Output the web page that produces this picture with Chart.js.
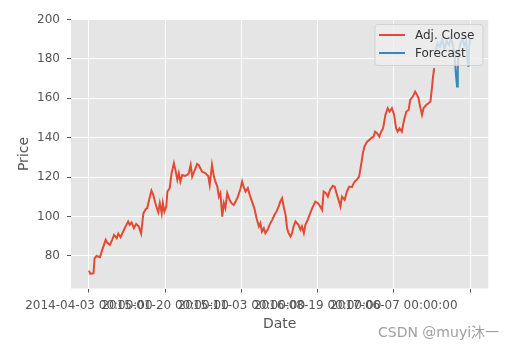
<!DOCTYPE html>
<html>
<head>
<meta charset="utf-8">
<script src="https://cdn.jsdelivr.net/npm/chart.js@4/dist/chart.umd.min.js"></script>
<style>
html,body{margin:0;padding:0;background:#fff;}
#wrap{width:518px;height:351px;position:relative;}
</style>
</head>
<body>
<div id="wrap"><canvas id="c" width="518" height="351"></canvas></div>
<script>
// ---- data ----
const adjCloseIndex = [0,4,12,15,20,29,35,44,48,55,61,66,73,77,83,90,96,103,107,112,118,124,131,137,143,149,153,159,164,169,172,177,182,186,191,194,198,203,206,212,217,223,227,232,236,240,245,252,258,262,267,271,278,284,288,297,306,313,317,323,328,332,337,341,345,350,354,358,363,369,374,380,385,391,398,402,406,411,417,422,428,434,440,446,450,454,459,463,469,474,481,487,492,498,502,507,511,516,520,524,529,533,537,542,546,550,555,559,564,568,574,579,586,594,601,607,612,616,622,627,633,640,645,651,655,660,664,671,677,683,690,697,703,709,715,719,723,730,736,741,747,751,756,762,767,772,778,784,789,795,801,806,810,815,821,827,833,839,843,850,856,861,865,869,874,878,885,891,896,900,903,906];
const adjCloseValues = [72.6,70.9,71.3,78.9,80.0,79.4,83.1,88.2,86.8,85.6,88.2,90.7,89.0,91.4,89.5,92.4,94.9,97.5,95.8,97.0,94.1,96.3,94.9,91.4,101.7,103.7,104.3,109.3,113.2,111.0,108.5,105.1,102.2,106.8,101.7,106.8,102.5,105.1,112.7,114.4,122.0,127.1,123.7,118.6,122.0,117.7,121.1,120.6,121.1,122.0,126.2,120.3,123.7,126.7,126.2,122.8,122.0,120.6,116.1,126.2,120.3,117.7,115.2,110.1,111.9,100.0,106.8,104.3,111.9,108.5,106.8,105.9,107.6,110.1,114.4,117.7,115.2,112.7,114.4,111.0,107.6,104.3,99.2,95.0,96.6,92.4,94.1,91.6,93.3,95.8,98.3,100.9,102.5,105.1,107.6,109.3,105.1,100.9,94.1,91.6,89.9,91.6,95.0,97.5,96.6,95.8,93.3,95.0,91.6,95.8,98.3,100.9,104.3,107.6,106.8,105.1,103.4,112.7,111.9,110.1,113.6,115.6,115.2,111.0,108.5,105.1,110.1,108.5,112.7,115.2,114.9,117.7,118.6,120.3,127.1,132.2,135.5,138.0,138.9,139.8,140.6,143.1,142.3,140.6,143.1,144.8,151.6,155.0,153.3,155.0,151.6,144.8,143.1,144.8,143.1,149.0,153.3,154.1,159.2,160.9,163.4,161.7,160.0,155.8,151.6,155.0,156.6,157.5,158.3,165.1,171.0,175.3];
const forecastIndex = [909,915,921,927,933,939,945,950,956,960,963,966,968,970,975,980,985,990,993,996,998,1000];
const forecastValues = [184,188,186,190,185,189,187,191,186,181,172,166,175,184,188,190,187,189,180,176,186,190];
const xTickPositions = [0,200,400,600,800,1000];
const xTickLabels = ["2014-04-03 00:00:00","2015-01-20 00:00:00","2015-11-03 00:00:00","2016-08-19 00:00:00","2017-06-07 00:00:00",""];
const yTicks = [80,100,120,140,160,180,200];
const seriesNames = ["Adj. Close","Forecast"];
const seriesColors = ["#E24A33","#348ABD"];

const toPoints = (xs, ys) => xs.map((x, i) => ({x: x, y: ys[i]}));

const bgPlugin = {
  id: 'bg',
  beforeDraw(chart) {
    const {ctx, chartArea: a} = chart;
    ctx.save();
    ctx.fillStyle = '#E5E5E5';
    ctx.fillRect(a.left, a.top, a.right - a.left, a.bottom - a.top);
    ctx.restore();
  }
};

const legendPlugin = {
  id: 'mplLegend',
  afterDatasetsDraw(chart) {
    const ctx = chart.ctx;
    const x0 = 375, y0 = 24.5, w = 108, h = 41, r = 3;
    ctx.save();
    ctx.beginPath();
    ctx.moveTo(x0 + r, y0);
    ctx.arcTo(x0 + w, y0, x0 + w, y0 + h, r);
    ctx.arcTo(x0 + w, y0 + h, x0, y0 + h, r);
    ctx.arcTo(x0, y0 + h, x0, y0, r);
    ctx.arcTo(x0, y0, x0 + w, y0, r);
    ctx.closePath();
    ctx.fillStyle = 'rgba(238,238,238,0.8)';
    ctx.fill();
    ctx.strokeStyle = 'rgba(204,204,204,0.8)';
    ctx.lineWidth = 1;
    ctx.stroke();
    const rows = [35, 53];
    seriesNames.forEach((name, i) => {
      ctx.strokeStyle = seriesColors[i];
      ctx.lineWidth = 2;
      ctx.beginPath();
      ctx.moveTo(379, rows[i]);
      ctx.lineTo(405, rows[i]);
      ctx.stroke();
      ctx.fillStyle = '#333333';
      ctx.font = '12px "DejaVu Sans"';
      ctx.textBaseline = 'middle';
      ctx.textAlign = 'left';
      ctx.fillText(name, 415, rows[i] + 0.5);
    });
    ctx.restore();
  },
  afterDraw(chart) {
    const ctx = chart.ctx;
    ctx.save();
    ctx.fillStyle = '#a0a0a0';
    ctx.font = '14px "DejaVu Sans", "Noto Sans CJK SC"';
    ctx.textBaseline = 'middle';
    ctx.textAlign = 'left';
    ctx.fillText('CSDN @muyi沐一', 378, 333);
    ctx.restore();
  }
};

new Chart(document.getElementById('c'), {
  type: 'line',
  data: {
    datasets: [
      {label: seriesNames[0], data: toPoints(adjCloseIndex, adjCloseValues), borderColor: seriesColors[0], borderWidth: 2, pointRadius: 0, tension: 0, fill: false},
      {label: seriesNames[1], data: toPoints(forecastIndex, forecastValues), borderColor: seriesColors[1], borderWidth: 2, pointRadius: 0, tension: 0, fill: false}
    ]
  },
  options: {
    responsive: false,
    animation: false,
    events: [],
    layout: {padding: {top: 19.5, right: 29.7, left: 0, bottom: 0}},
    plugins: {legend: {display: false}, tooltip: {enabled: false}},
    scales: {
      x: {
        type: 'linear', min: -47, max: 1048,
        afterBuildTicks: s => { s.ticks = xTickPositions.map(v => ({value: v})); },
        afterFit: s => { s.height = 62.5; s.paddingLeft = 0; s.paddingRight = 0; },
        ticks: {
          autoSkip: false, maxRotation: 0, minRotation: 0, color: '#555555', padding: 6,
          font: {family: 'DejaVu Sans', size: 12},
          callback: v => { const i = xTickPositions.indexOf(v); return i >= 0 ? xTickLabels[i] : ''; }
        },
        grid: {color: '#FFFFFF', lineWidth: 1, drawTicks: true, tickLength: 4, tickColor: '#555555', tickWidth: 1},
        border: {display: false},
        title: {display: true, text: 'Date', color: '#555555', font: {family: 'DejaVu Sans', size: 14}, padding: {top: 0, bottom: 18}}
      },
      y: {
        type: 'linear', min: 63.5, max: 200,
        afterBuildTicks: s => { s.ticks = yTicks.map(v => ({value: v})); },
        afterFit: s => { s.width = 71; s.paddingTop = 0; s.paddingBottom = 0; },
        ticks: {color: '#555555', padding: 7, font: {family: 'DejaVu Sans', size: 12}},
        grid: {color: '#FFFFFF', lineWidth: 1, drawTicks: true, tickLength: 4, tickColor: '#555555', tickWidth: 1},
        border: {display: false},
        title: {display: true, text: 'Price', color: '#555555', font: {family: 'DejaVu Sans', size: 14}, padding: {top: 16, bottom: 0}}
      }
    }
  },
  plugins: [bgPlugin, legendPlugin]
});
</script>
</body>
</html>
